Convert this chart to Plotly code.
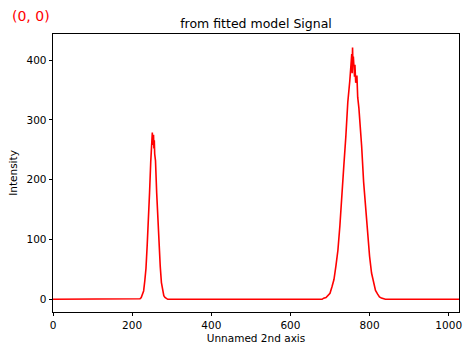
import plotly.graph_objects as go

# Signal (sparse points; flat zero baseline between peaks)
x_vals = [0, 216, 220, 223, 226, 229, 232, 235, 238, 241, 244, 247, 249, 250, 251, 252, 253,
          254, 255, 256, 257, 259, 262, 265, 268, 271, 274, 277, 280, 283, 286, 290,
          680, 684, 690, 695, 700, 705, 710, 715, 720, 725, 730, 735, 740, 745, 750,
          753, 755, 756, 757, 758, 759, 760, 761, 762, 763, 765, 768, 770, 773, 775,
          780, 785, 790, 795, 800, 805, 810, 815, 820, 825, 830, 835, 840, 1026]
y_vals = [0, 0, 1, 3, 8, 14, 31, 52, 90, 128, 178, 230, 248, 262, 279, 258, 270,
          275, 252, 266, 243, 232, 178, 131, 90, 55, 28, 16, 6, 3, 1, 0,
          0, 2, 3, 7, 10, 21, 33, 56, 82, 123, 166, 224, 272, 330, 365,
          386, 410, 378, 421, 390, 406, 380, 402, 372, 392, 362, 374, 338, 320, 305,
          256, 196, 150, 104, 72, 44, 28, 15, 9, 4, 2, 1, 0, 0]

title_text = "from fitted model Signal"
x_title = "Unnamed 2nd axis"
y_title = "Intensity"
corner_label = "(0, 0)"
x_ticks = [0, 200, 400, 600, 800, 1000]
y_ticks = [0, 100, 200, 300, 400]

font = "DejaVu Sans"

fig = go.Figure()
fig.add_trace(go.Scatter(x=x_vals, y=y_vals, mode="lines",
                         line=dict(color="red", width=1.6), showlegend=False))

axis_common = dict(showline=True, linecolor="black", linewidth=0.8, mirror=True,
                   ticks="outside", ticklen=3.5, tickwidth=0.8, tickcolor="black",
                   showgrid=False, zeroline=False,
                   tickfont=dict(family=font, size=10.5, color="black"))

fig.update_layout(
    width=474, height=355,
    margin=dict(l=53, r=15, t=34, b=43),
    plot_bgcolor="white", paper_bgcolor="white",
    title=dict(text=title_text, x=(53 + 459) / 2 / 474, xanchor="center",
               y=1 - 24 / 355, yanchor="middle",
               font=dict(family=font, size=12.5, color="black")),
    xaxis=dict(range=[0, 1026], tickvals=x_ticks,
               title=dict(text=x_title, standoff=4,
                          font=dict(family=font, size=10.5, color="black")),
               **axis_common),
    yaxis=dict(range=[-21.2, 443.6], tickvals=y_ticks,
               title=dict(text=y_title, standoff=6,
                          font=dict(family=font, size=10.5, color="black")),
               **axis_common),
    annotations=[dict(text=corner_label, xref="paper", yref="paper",
                      x=-53 / 406 + 10 / 406, y=1 + 18 / 278, xanchor="left",
                      yanchor="middle", showarrow=False,
                      font=dict(family=font, size=14, color="red"))],
)

fig.write_html("out.html", config={"displayModeBar": False},
               post_script="document.body.style.margin='0';document.body.style.overflow='hidden';")
